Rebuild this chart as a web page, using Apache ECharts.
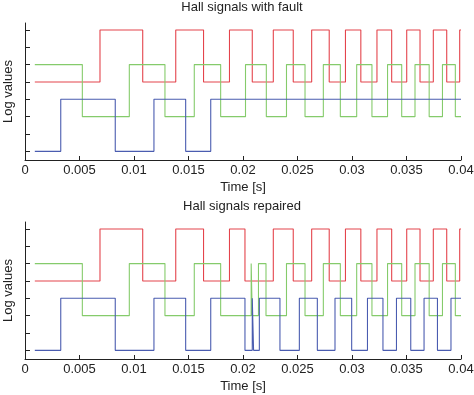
<!DOCTYPE html>
<html>
<head>
<meta charset="utf-8">
<script src="https://cdn.jsdelivr.net/npm/echarts@6/dist/echarts.min.js"></script>
<style>html,body{margin:0;padding:0;background:#fff;}#c{width:474px;height:395px;}</style>
</head>
<body>
<div id="c"></div>
<script>
// ---- data ----
const titles = ['Hall signals with fault', 'Hall signals repaired'];
const xTickStep = 0.005;
const yTickValues = [0, 1, 2, 3, 4, 5, 6, 7];
const signalStart = 0.0009;
const signalEnd = 0.04;

// logic levels [low, high]
const redLevels = [4, 7];
const greenLevels = [2, 5];
const blueLevels = [0, 3];

// initial state index (0 = low, 1 = high)
const redInit = 0;
const greenInit = 1;
const blueInit = 0;

// edge times [s]
const topRedEdges = [0.00688, 0.01080, 0.01383, 0.01638, 0.01876, 0.02085, 0.02278, 0.02461, 0.02630, 0.02791, 0.02940, 0.03081, 0.03229, 0.03364, 0.03502, 0.03624, 0.03746, 0.03869, 0.03988];
const topGreenEdges = [0.00526, 0.00957, 0.01284, 0.01553, 0.01795, 0.02023, 0.02214, 0.02399, 0.02569, 0.02737, 0.02893, 0.03043, 0.03183, 0.03326, 0.03456, 0.03578, 0.03708, 0.03830, 0.03948];
const topBlueEdges = [0.00328, 0.00828, 0.01183, 0.01474, 0.01704];

const botRedEdges = [0.00688, 0.01080, 0.01383, 0.01638, 0.01876, 0.02018, 0.02278, 0.02461, 0.02630, 0.02791, 0.02940, 0.03081, 0.03229, 0.03364, 0.03502, 0.03624, 0.03746, 0.03869, 0.03988];
const botGreenEdges = [0.00526, 0.00957, 0.01284, 0.01553, 0.01795, 0.02075, 0.02085, 0.02142, 0.02211, 0.02399, 0.02569, 0.02737, 0.02893, 0.03043, 0.03183, 0.03326, 0.03456, 0.03578, 0.03708, 0.03830, 0.03948];
const botBlueEdges = [0.00328, 0.00828, 0.01183, 0.01474, 0.01704, 0.02018, 0.02085, 0.02097, 0.02150, 0.02339, 0.02517, 0.02682, 0.02844, 0.02997, 0.03142, 0.03284, 0.03408, 0.03539, 0.03661, 0.03784, 0.03908];

// ---- build ----
function steps(levels, init, edges) {
  let s = init;
  const pts = [[signalStart, levels[s]]];
  edges.forEach(e => { s = 1 - s; pts.push([e, levels[s]]); });
  pts.push([signalEnd, levels[s]]);
  return pts;
}

const FONT = '"Liberation Sans", Arial, sans-serif';
const axisCol = '#222';
const colors = { red: '#e4444c', green: '#85cb6b', blue: '#4a5cb0' };

function xAx(i) {
  return {
    type: 'value', gridIndex: i, min: 0, max: 0.04, interval: xTickStep,
    name: 'Time [s]', nameLocation: 'middle', nameGap: 21,
    nameTextStyle: { fontFamily: FONT, fontSize: 13, color: axisCol },
    axisLine: { show: true, onZero: false, lineStyle: { color: axisCol, width: 1 } },
    axisTick: { show: true, inside: true, length: 4, lineStyle: { color: axisCol } },
    axisLabel: { margin: 4, fontFamily: FONT, fontSize: 13, color: axisCol, hideOverlap: false },
    splitLine: { show: false }
  };
}
function yAx(i) {
  return {
    type: 'value', gridIndex: i, min: -0.5, max: 7.4,
    name: 'Log values', nameLocation: 'middle', nameGap: 10, nameRotate: 90,
    nameTextStyle: { fontFamily: FONT, fontSize: 13, color: axisCol },
    axisLine: { show: true, onZero: false, lineStyle: { color: axisCol, width: 1 } },
    axisTick: { show: true, inside: true, length: 5, customValues: yTickValues, lineStyle: { color: axisCol } },
    axisLabel: { show: false },
    splitLine: { show: false }
  };
}
function ser(i, levels, init, edges, color) {
  return {
    type: 'line', xAxisIndex: i, yAxisIndex: i, step: 'end',
    data: steps(levels, init, edges), showSymbol: false, symbol: 'none',
    lineStyle: { color: color, width: 1.1 }, animation: false, silent: true
  };
}

const chart = echarts.init(document.getElementById('c'), null, { renderer: 'canvas' });
chart.setOption({
  backgroundColor: '#fff',
  animation: false,
  title: [
    { text: titles[0], left: 242, textAlign: 'center', top: 1, padding: 0,
      textStyle: { fontFamily: FONT, fontSize: 13, fontWeight: 'normal', color: axisCol } },
    { text: titles[1], left: 242, textAlign: 'center', top: 200, padding: 0,
      textStyle: { fontFamily: FONT, fontSize: 13, fontWeight: 'normal', color: axisCol } }
  ],
  grid: [
    { left: 25, right: 13, top: 23, height: 137, containLabel: false, outerBoundsMode: 'none' },
    { left: 25, right: 13, top: 222, height: 137, containLabel: false, outerBoundsMode: 'none' }
  ],
  xAxis: [xAx(0), xAx(1)],
  yAxis: [yAx(0), yAx(1)],
  series: [
    ser(0, redLevels, redInit, topRedEdges, colors.red),
    ser(0, greenLevels, greenInit, topGreenEdges, colors.green),
    ser(0, blueLevels, blueInit, topBlueEdges, colors.blue),
    ser(1, redLevels, redInit, botRedEdges, colors.red),
    ser(1, greenLevels, greenInit, botGreenEdges, colors.green),
    ser(1, blueLevels, blueInit, botBlueEdges, colors.blue)
  ]
});
</script>
</body>
</html>
